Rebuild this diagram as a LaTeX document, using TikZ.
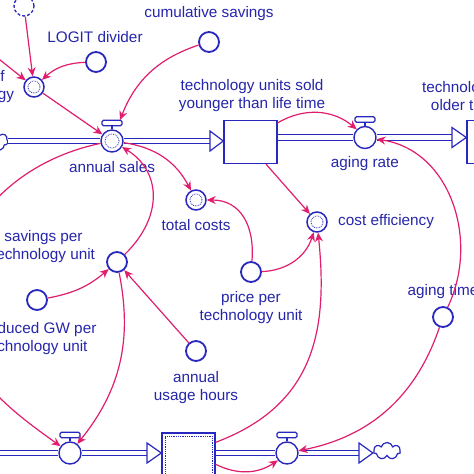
\documentclass[tikz,border=0pt]{standalone}
\usepackage{fontspec}
\setmainfont{Liberation Sans}
\usetikzlibrary{arrows.meta,shapes.symbols}
\definecolor{vblue}{RGB}{40,40,190}
\definecolor{vtext}{RGB}{38,38,172}
\definecolor{vpink}{RGB}{225,30,110}
\newcommand\vhandle[1]{%
  \draw[vblue,line width=1.3pt] (#1.north) -- ++(0,-4);
  \draw[handle] ([shift={(-10,-9)}]#1.north) rectangle ([shift={(10,-3.5)}]#1.north);}
\begin{document}
\begin{tikzpicture}[x=1pt,y=-1pt,
  every node/.style={font=\fontsize{15.3}{18}\selectfont, text=vtext},
  lbl/.style={align=center, inner sep=0pt},
  aux/.style={circle, draw=vblue, line width=1.8pt, minimum size=20pt, inner sep=0pt, fill=white},
  auxd/.style={aux, line width=1.5pt, path picture={\draw[vblue, densely dotted, line width=0.8pt] (path picture bounding box.center) circle (6pt);}},
  valve/.style={circle, draw=vblue, line width=1.4pt, minimum size=22pt, inner sep=0pt, fill=white},
  valved/.style={valve, path picture={\draw[vblue, densely dotted, line width=0.8pt] (path picture bounding box.center) circle (7pt);}},
  stockbox/.style={rectangle, draw=vblue, line width=1.4pt, fill=white, inner sep=0pt},
  link/.style={draw=vpink, line width=1.2pt, -{Stealth[length=9pt,width=8pt]}},
  pipe/.style={draw=vblue, line width=1.2pt, double=white, double distance=4.2pt},
  pipehead/.style={draw=vblue, line width=1.2pt, fill=white, line join=miter},
  handle/.style={draw=vblue, line width=1.3pt, fill=white, rounded corners=1.5pt},
  cloudnode/.style={cloud, cloud puffs=7, cloud ignores aspect, draw=vblue, line width=1.2pt, fill=white, inner sep=0pt},
]
\useasboundingbox (0,0) rectangle (474,474);
\fill[white] (0,0) rectangle (474,474);
\clip (0,0) rectangle (474,474);

% ---- auxiliaries and labels
\node[aux, line width=1.3pt, dash pattern=on 3pt off 2pt] (shadow) at (24,6) {};
\node[auxd] (frac) at (34,87) {};
\node[lbl] (fracl) at (-23,87) {share of\\technology};
\node[aux] (logit) at (96,62) {};
\node[lbl] (logitl) at (95,37) {LOGIT divider};
\node[aux] (cum) at (209,42) {};
\node[lbl] (cuml) at (209,14) {cumulative savings};
\node[auxd] (tcost) at (196,200) {};
\node[lbl] (tcostl) at (196,225) {total costs};
\node[auxd] (ceff) at (317,222) {};
\node[lbl, anchor=west] (ceffl) at (338,222) {cost efficiency};
\node[aux] (spu) at (117,262) {};
\node[lbl] (spul) at (43.5,247) {savings per\\technology unit};
\node[aux] (pgw) at (37,300) {};
\node[lbl] (pgwl) at (36,338.5) {produced GW per\\technology unit};
\node[aux] (ppu) at (251,272) {};
\node[lbl] (ppul) at (251,307.5) {price per\\technology unit};
\node[aux] (auh) at (196,351) {};
\node[lbl] (auhl) at (196,387.5) {annual\\usage hours};
\node[aux] (agt) at (443,317) {};
\node[lbl] (agtl) at (443,292) {aging time};

% ---- top flow
\node[cloudnode, minimum width=28pt, minimum height=20pt] (cl0) at (-6,141) {};
\node[valved] (sales) at (112,141) {};
\node[lbl] (salesl) at (112,167) {annual sales};
\node[stockbox, minimum width=53pt, minimum height=43pt] (stock1) at (250.5,142) {};
\node[lbl] (stock1l) at (252,96) {technology units sold\\younger than life time};
\node[valve] (agr) at (365,137.5) {};
\node[lbl] (agrl) at (365,164) {aging rate};
\node[stockbox, minimum width=53pt, minimum height=43pt] (stock2) at (493.5,142) {};
\node[lbl] (stock2l) at (493.5,96) {technology units sold\\older than life time};
\coordinate (t1) at (210,141);
\coordinate (t2) at (452,137.5);

\draw[pipe] (cl0.east |- sales) -- (sales.west);
\draw[pipe] (sales.east) -- (t1);
\draw[pipehead] ([yshift=10pt]t1) -- (t1 -| stock1.west) -- ([yshift=-10pt]t1) -- cycle;
\draw[pipe] (stock1.east |- agr) -- (agr.west);
\draw[pipe] (agr.east) -- (t2);
\draw[pipehead] ([yshift=10pt]t2) -- (t2 -| stock2.west) -- ([yshift=-10pt]t2) -- cycle;
\vhandle{sales}
\vhandle{agr}

% ---- bottom flow
\coordinate (offB) at (-20,453);
\node[valve] (v3) at (70,453) {};
\node[stockbox, minimum width=53pt, minimum height=47pt,
  path picture={\draw[vblue, densely dotted, line width=0.8pt] ([shift={(3pt,3pt)}]path picture bounding box.south west) rectangle ([shift={(-3pt,-3pt)}]path picture bounding box.north east);}] (stock3) at (188.5,456.5) {};
\node[valve] (v4) at (287,453) {};
\node[cloudnode, minimum width=27pt, minimum height=17pt] (cl1) at (387,451) {};
\coordinate (t3) at (147,453);
\coordinate (t4) at (359,453);
\draw[pipe] (offB) -- (v3.west);
\draw[pipe] (v3.east) -- (t3);
\draw[pipehead] ([yshift=10pt]t3) -- (t3 -| stock3.west) -- ([yshift=-10pt]t3) -- cycle;
\draw[pipe] (stock3.east |- v4) -- (v4.west);
\draw[pipe] (v4.east) -- (t4);
\draw[pipehead] ([yshift=10pt]t4) -- (t4 -| cl1.west) -- ([yshift=-10pt]t4) -- cycle;
\vhandle{v3}
\vhandle{v4}

% ---- links
\coordinate (offL) at (-25,40);
\coordinate (arcL) at (-45,300);
\draw[link] (shadow) -- (frac);
\draw[link] (offL) -- (frac);
\draw[link] (logit) to[bend right=20] (frac);
\draw[link] (frac) -- (sales);
\draw[link] (cum) to[bend right=25] ([shift={(8,-21)}]sales.center);
\draw[link] (sales) to[bend left=27] (tcost);
\draw[link] (sales) .. controls (20,160) and (-45,220) .. (arcL) .. controls (-45,370) and (10,410) .. (v3);
\draw[link] (spu) .. controls (165,215) and (160,170) .. (sales);
\draw[link] (pgw) to[bend right=15] (spu);
\draw[link] (auh) -- (spu);
\draw[link] (spu) to[bend left=25] (v3);
\draw[link] ([yshift=-3pt]stock1.north east) to[bend left=35] (agr);
\draw[link] (stock1.-55) -- (ceff);
\draw[link] (ppu) to[bend right=35] (ceff);
\draw[link] (ppu) .. controls (255,225) and (240,200) .. (tcost);
\draw[link] ([yshift=-10pt]stock3.north east) .. controls (315,405) and (328,330) .. (ceff);
\draw[link] ([yshift=-32pt]stock3.north east) to[bend right=30] (v4);
\draw[link] (agt) to[bend left=30] (v4);
\draw[link] (agt) .. controls (480,240) and (450,150) .. (agr);
\end{tikzpicture}
\end{document}
